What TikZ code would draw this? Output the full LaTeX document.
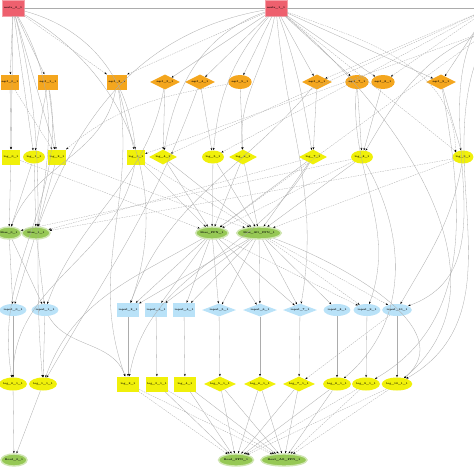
\documentclass[tikz,border=0pt]{standalone}
\usetikzlibrary{shapes.geometric,arrows.meta}
\definecolor{mulred}{RGB}{238,96,110}
\definecolor{sqorange}{RGB}{244,166,30}
\definecolor{lgyellow}{RGB}{240,240,10}
\definecolor{biasgreen}{RGB}{150,200,85}
\definecolor{inpblue}{RGB}{185,226,248}
\tikzset{
	lbl/.style={inner sep=0pt, font=\fontsize{2.6}{3}\selectfont\bfseries},
	redbox/.style={lbl, rectangle, fill=mulred, draw=mulred!60, minimum width=22pt, minimum height=16pt},
	orbox/.style={lbl, rectangle, fill=sqorange, minimum width=20pt, minimum height=15pt},
	ordia/.style={lbl, diamond, aspect=2.2, fill=sqorange, minimum width=30pt, minimum height=15pt},
	orell/.style={lbl, ellipse, fill=sqorange, minimum width=22pt, minimum height=14pt},
	yebox/.style={lbl, rectangle, fill=lgyellow, minimum width=18pt, minimum height=15pt},
	yedia/.style={lbl, diamond, aspect=2.2, fill=lgyellow, minimum width=28pt, minimum height=15pt},
	yeell/.style={lbl, ellipse, fill=lgyellow, minimum width=22pt, minimum height=13pt},
	grell/.style={lbl, ellipse, fill=biasgreen, draw=biasgreen!45, line width=1.4pt, minimum width=32pt, minimum height=12pt},
	blbox/.style={lbl, rectangle, fill=inpblue, minimum width=22pt, minimum height=14pt},
	bldia/.style={lbl, diamond, aspect=3, fill=inpblue, minimum width=34pt, minimum height=13pt},
	blell/.style={lbl, ellipse, fill=inpblue, minimum width=26pt, minimum height=12pt},
	wire/.style={draw=gray!65, line width=0.3pt, -{Stealth[length=2.4pt,width=1.8pt,black]}},
	dwire/.style={wire, dash pattern=on 1.5pt off 1pt},
}
\begin{document}
\begin{tikzpicture}[x=1pt,y=-1pt]
			%%%%% START %%%%%
			\useasboundingbox[fill=white] (0,0) rectangle (474,474);
			
			% row 1
			\node[redbox] (mulA) at (13, 8) {mulx\_0\_1};
			\node[redbox] (mulB) at (276, 8) {mulx\_1\_1};
			\coordinate (rgt) at (490, 8);
			\coordinate (rgtB) at (490, 30);
			
			% row 2
			\node[orbox, minimum width=18pt] (sq1) at (10, 82) {sqrt\_0\_1};
			\node[orbox] (sq2) at (48, 82) {sqrt\_1\_1};
			\node[orbox] (sq3) at (117, 82) {sqrt\_2\_1};
			\node[ordia] (sq4) at (165, 82) {sqrt\_3\_1};
			\node[ordia] (sq5) at (200, 82) {sqrt\_4\_1};
			\node[orell] (sq6) at (240, 82) {sqrt\_5\_1};
			\node[ordia] (sq7) at (317, 82) {sqrt\_6\_1};
			\node[orell] (sq8) at (357, 82) {sqrt\_7\_1};
			\node[orell] (sq9) at (383, 82) {sqrt\_8\_1};
			\node[ordia] (sq10) at (441, 82) {sqrt\_9\_1};
			
			% row 3
			\node[yebox] (lg1) at (11, 157) {log\_0\_1};
			\node[yeell] (lg2) at (34, 157) {log\_1\_1};
			\node[yebox] (lg3) at (57, 157) {log\_2\_1};
			\node[yebox] (lg4) at (136, 157) {log\_3\_1};
			\node[yedia] (lg5) at (163, 157) {log\_4\_1};
			\node[yeell] (lg6) at (213, 157) {log\_5\_1};
			\node[yedia] (lg7) at (243, 157) {log\_6\_1};
			\node[yedia] (lg8) at (313, 157) {log\_7\_1};
			\node[yeell] (lg9) at (362, 157) {log\_8\_1};
			\node[yeell, minimum width=20pt] (lg10) at (463, 157) {log\_9\_1};
			
			% row 4
			\node[grell, minimum width=18pt] (bias1) at (9, 233) {Bias\_0\_1};
			\node[grell, minimum width=28pt] (bias2) at (36, 233) {Bias\_1\_1};
			\node[grell] (bias3) at (212, 233) {Bias\_FFN\_1};
			\node[grell, minimum width=40pt] (bias4) at (259, 233) {Bias\_Alt\_FFN\_1};
			
			% row 5
			\node[blell] (inp1) at (13, 310) {input\_0\_1};
			\node[blell] (inp2) at (45, 310) {input\_1\_1};
			\node[blbox] (inp3) at (128, 310) {input\_2\_1};
			\node[blbox] (inp4) at (156, 310) {input\_3\_1};
			\node[blbox] (inp5) at (184, 310) {input\_4\_1};
			\node[bldia] (inp6) at (219, 310) {input\_5\_1};
			\node[bldia] (inp7) at (260, 310) {input\_6\_1};
			\node[bldia] (inp8) at (300, 310) {input\_7\_1};
			\node[blell] (inp9) at (337, 310) {input\_8\_1};
			\node[blell] (inp10) at (367, 310) {input\_9\_1};
			\node[blell] (inp11) at (397, 310) {input\_10\_1};
			
			% row 6
			\node[yeell] (lo1) at (13, 384) {log\_0\_1\_1};
			\node[yeell] (lo2) at (43, 384) {log\_1\_1\_1};
			\node[yebox, minimum width=22pt] (lo3) at (128, 384) {log\_2\_1};
			\node[yebox, minimum width=22pt] (lo4) at (157, 384) {log\_3\_1\_1};
			\node[yebox, minimum width=22pt] (lo5) at (185, 384) {log\_4\_1};
			\node[yedia, minimum width=32pt] (lo6) at (220, 384) {log\_5\_1\_1};
			\node[yedia, minimum width=32pt] (lo7) at (260, 384) {log\_6\_1\_1};
			\node[yedia, minimum width=32pt] (lo8) at (299, 384) {log\_7\_1\_1};
			\node[yeell] (lo9) at (337, 384) {log\_8\_1\_1};
			\node[yeell] (lo10) at (366, 384) {log\_9\_1\_1};
			\node[yeell] (lo11) at (397, 384) {log\_10\_1\_1};
			
			% row 7
			\node[grell, minimum width=26pt] (bout1) at (14, 460) {Bout\_0\_1};
			\node[grell, minimum width=35pt] (bout2) at (236, 460) {Bout\_FFN\_1};
			\node[grell, minimum width=42pt] (bout3) at (284, 460) {Bout\_Alt\_FFN\_1};
			
			%%%%% EDGES %%%%%
			\draw[wire, -] (mulA) -- (mulB);
			\draw[wire, -] (mulB) -- (rgt);
			
			\draw[wire] (mulA) -- (sq1);
			\draw[wire] (mulA) -- (sq2);
			\draw[dwire] (mulA) -- (sq3.north west);
			\draw[wire] (mulA) -- (lg1);
			\draw[wire] (mulA) -- (lg2);
			\draw[wire] (mulA) -- (lg3);
			\draw[wire] (mulA) to[out=-15, in=95] (lg4);
			\draw[wire] (mulA) to[out=-60, in=80] (bias2);
			\draw[wire] (mulA) to[out=-30, in=70] (inp3);
			\draw[wire] (mulA) to[out=-75, in=95] (lo2);
			
			\draw[wire] (mulB) -- (sq4);
			\draw[wire] (mulB) -- (sq5);
			\draw[wire] (mulB) -- (sq6);
			\draw[wire] (mulB) -- (sq7);
			\draw[wire] (mulB) -- (sq8);
			\draw[wire] (mulB) -- (sq9);
			\draw[wire] (mulB) -- (sq10);
			\draw[dwire] (mulB) -- (sq3.north east);
			\draw[wire] (mulB) to[out=200, in=80] (lg5);
			\draw[wire] (mulB) to[out=230, in=85] (lg6);
			\draw[wire] (mulB) to[out=260, in=95] (lg7);
			\draw[wire] (mulB) to[out=-70, in=100] (lg8);
			\draw[dwire] (mulB) -- (lg10);
			\draw[dwire] (mulB) to[out=-20, in=90] (lg10.north west);
			\draw[wire] (mulB) to[out=190, in=70] (bias2);
			\draw[wire] (mulB) to[out=-85, in=80] (inp8);
			\draw[wire] (mulB) to[out=-40, in=40] (lo11);
			
			\draw[dwire] (rgt) -- (sq7);
			\draw[dwire] (rgt) -- (sq9);
			\draw[wire] (rgt) -- (sq10);
			\draw[dwire] (rgt) -- (lg5);
			\draw[dwire] (rgt) -- (lg6);
			\draw[dwire] (rgtB) -- (lg4);
			\draw[dwire] (rgtB) -- (bias3);
			\draw[wire] (rgtB) to[out=200, in=60] (lg9);
			\draw[wire] (rgt) to[out=230, in=20] (inp11);
			\draw[wire] (rgtB) to[out=240, in=30] (lo11);
			
			% row 2 to row 3
			\draw[wire] (sq1) -- (lg1);
			\draw[wire] (sq2) -- (lg2);
			\draw[wire] (sq2) -- (lg3);
			\draw[wire] (sq3) -- (lg4);
			\draw[wire] (sq4) -- (lg5);
			\draw[wire] (sq5) -- (lg6);
			\draw[wire] (sq6) -- (lg7);
			\draw[wire] (sq7) -- (lg8);
			\draw[wire] (sq8) -- (lg9);
			\draw[wire] (sq9) -- (lg9);
			\draw[wire] (sq10) -- (lg10);
			\draw[dwire] (sq1) -- (lg3);
			\draw[dwire] (sq6) to[out=190, in=40] (lg3);
			\draw[wire] (sq3) to[out=-100, in=70] (bias1);
			\draw[wire] (sq4) to[out=-100, in=70] (inp2);
			\draw[wire] (sq5) to[out=-110, in=60] (lo2);
			\draw[wire] (sq7) to[out=-130, in=70] (inp3);
			\draw[wire] (sq8) to[out=-95, in=70] (inp10);
			\draw[wire] (sq10) to[out=-80, in=30] (lo10);
			\draw[wire] (sq2) to[out=-80, in=100] (lo1);
			\draw[wire] (sq3) to[out=-80, in=110] (lo3);
			
			% row 3 to row 4
			\draw[wire] (lg1) -- (bias1);
			\draw[dwire] (lg1) -- (bias3);
			\draw[wire] (lg2) -- (bias1);
			\draw[wire] (lg2) -- (bias2);
			\draw[wire] (lg3) -- (bias2);
			\draw[dwire] (lg3) -- (bias4);
			\draw[wire] (lg4) -- (bias3);
			\draw[dwire] (lg4) -- (bias4);
			\draw[wire] (lg5) -- (bias3);
			\draw[wire] (lg5) -- (bias4);
			\draw[wire] (lg6) -- (bias3);
			\draw[wire] (lg6) -- (bias4);
			\draw[wire] (lg7) -- (bias3);
			\draw[wire] (lg7) -- (bias4);
			\draw[wire] (lg8) -- (bias3);
			\draw[wire] (lg8) -- (bias4);
			\draw[dwire] (lg8) -- (bias2);
			\draw[wire] (lg9) -- (bias4);
			\draw[dwire] (lg9) -- (bias3);
			\draw[dwire] (lg9) -- (bias1);
			\draw[dwire] (lg10) -- (bias4);
			\draw[dwire] (lg10) -- (bias2);
			\draw[wire] (lg10) to[out=-100, in=60] (inp11);
			\draw[wire] (lg9) to[out=-60, in=40] (lo9);
			\draw[wire] (lg8) to[out=-120, in=80] (lo3);
			\draw[wire] (lg4) to[out=-100, in=90] (lo1);
			
			% row 4 to row 5
			\draw[wire] (bias1) -- (inp1);
			\draw[wire] (bias1) -- (inp2);
			\draw[wire] (bias2) -- (inp1);
			\draw[wire] (bias2) -- (inp2);
			\draw[wire] (bias3) -- (inp3);
			\draw[wire] (bias3) -- (inp4);
			\draw[wire] (bias3) -- (inp5);
			\draw[wire] (bias3) -- (inp6);
			\draw[wire] (bias3) -- (inp7);
			\draw[wire] (bias3) -- (inp8);
			\draw[dwire] (bias3) -- (inp10);
			\draw[wire] (bias4) -- (inp3);
			\draw[wire] (bias4) -- (inp4);
			\draw[wire] (bias4) -- (inp5);
			\draw[wire] (bias4) -- (inp6);
			\draw[wire] (bias4) -- (inp7);
			\draw[wire] (bias4) -- (inp8);
			\draw[wire] (bias4) -- (inp9);
			\draw[dwire] (bias4) -- (inp10);
			\draw[dwire] (bias4) -- (inp11);
			\draw[wire] (bias4) to[out=-20, in=40] (lo11);
			\draw[wire] (bias3) to[out=-150, in=70] (lo2);
			
			% row 5 to row 6
			\draw[wire] (inp1) -- (lo1);
			\draw[wire] (inp2) -- (lo2);
			\draw[wire] (inp3) -- (lo3);
			\draw[wire] (inp4) -- (lo4);
			\draw[wire] (inp5) -- (lo5);
			\draw[wire] (inp6) -- (lo6);
			\draw[wire] (inp7) -- (lo7);
			\draw[wire] (inp8) -- (lo8);
			\draw[wire] (inp9) -- (lo9);
			\draw[wire] (inp10) -- (lo10);
			\draw[wire] (inp11) -- (lo11);
			\draw[dwire] (inp11) -- (lo8);
			\draw[wire] (inp2) to[out=-60, in=110] (lo3);
			
			% row 6 to row 7
			\draw[wire] (lo1) -- (bout1);
			\draw[wire] (lo2) -- (bout1);
			\draw[dwire] (lo3) -- (bout2);
			\draw[dwire] (lo3) -- (bout3);
			\draw[wire] (lo4) -- (bout2);
			\draw[dwire] (lo4) -- (bout3);
			\draw[wire] (lo5) -- (bout2);
			\draw[wire] (lo5) -- (bout3);
			\draw[wire] (lo6) -- (bout2);
			\draw[wire] (lo6) -- (bout3);
			\draw[wire] (lo7) -- (bout2);
			\draw[wire] (lo7) -- (bout3);
			\draw[wire] (lo8) -- (bout2);
			\draw[wire] (lo8) -- (bout3);
			\draw[wire] (lo9) -- (bout2);
			\draw[wire] (lo9) -- (bout3);
			\draw[dwire] (lo10) -- (bout2);
			\draw[dwire] (lo10) -- (bout3);
			\draw[dwire] (lo11) -- (bout2);
			\draw[dwire] (lo11) -- (bout3);
			
			%%%%% END %%%%%
		\end{tikzpicture}
\end{document}
